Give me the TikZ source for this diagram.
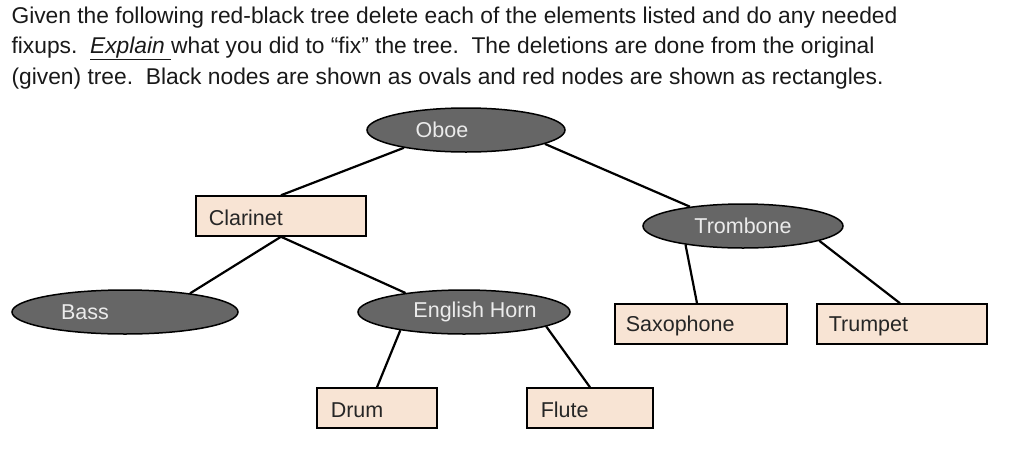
\documentclass[tikz,border=0pt]{standalone}
\usepackage{fontspec}
\setmainfont{Liberation Sans}
\usetikzlibrary{shapes.geometric}
\definecolor{blk}{HTML}{666666}
\definecolor{peach}{HTML}{F8E4D4}
\begin{document}
\begin{tikzpicture}[x=1pt,y=-1pt,
  bn/.style={ellipse,draw=black,line width=1.5pt,fill=blk,minimum width=#1,minimum height=44pt,inner sep=0pt},
  rn/.style={rectangle,draw=black,line width=1.5pt,fill=peach,minimum width=#1,minimum height=40pt,inner sep=0pt},
  lt/.style={font=\fontsize{21.5}{24}\selectfont,text=#1},
  rl/.style={lt=black!85,anchor=west,yshift=-2pt},
  hd/.style={anchor=base west,font=\fontsize{22.8}{26}\selectfont,text=black!90},
  edge/.style={line width=2.2pt}]
\useasboundingbox (0,0) rectangle (1024,453);
\node[hd] (t1) at (8,23) {Given the following red-black tree delete each of the elements listed and do any needed};
\node[hd] (t2) at (8,53) {fixups.\ \ \underline{\itshape Explain }what you did to “fix” the tree.\ \ The deletions are done from the original};
\node[hd] (t3) at (8,84) {(given) tree.\ \ Black nodes are shown as ovals and red nodes are shown as rectangles.};

\draw[edge] (466,130) ++(-164:1pt);
\node[bn=198pt,label={[lt=white!92!black,xshift=-24pt]center:Oboe}] (oboe) at (466,130) {};
\node[bn=200pt,label={[lt=white!92!black]center:Trombone}] (trom) at (743,226) {};
\node[bn=226pt,label={[lt=white!92!black,xshift=-40pt]center:Bass}] (bass) at (125,312) {};
\node[bn=212pt,label={[lt=white!92!black,xshift=11pt]center:English Horn}] (eng) at (464,312) {};
\node[rn=170pt,label={[rl]west:\hspace{10pt}Clarinet}] (clar) at (281,216) {};
\node[rn=172pt,label={[rl]west:\hspace{8pt}Saxophone}] (sax) at (701,324) {};
\node[rn=170pt,label={[rl]west:\hspace{9pt}Trumpet}] (trum) at (902,324) {};
\node[rn=120pt,label={[rl]west:\hspace{11pt}Drum}] (drum) at (377,408) {};
\node[rn=126pt,label={[rl]west:\hspace{11pt}Flute}] (flute) at (590,408) {};

\draw[edge] (oboe.-164) -- (clar.north);
\draw[edge] (oboe.-10) -- (trom.160);
\draw[edge] (clar.south) -- (bass.16);
\draw[edge] (clar.south) -- (eng.162);
\draw[edge] (trom.-162) -- ([xshift=-4pt]sax.north);
\draw[edge] (trom.-11) -- ([xshift=-2pt]trum.north);
\draw[edge] (eng.-164) -- (drum.north);
\draw[edge] (eng.-10) -- (flute.north);
\end{tikzpicture}
\end{document}
